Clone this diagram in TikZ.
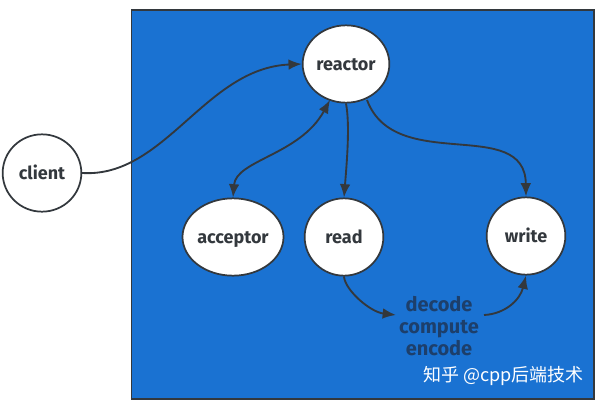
\documentclass[tikz,border=0pt]{standalone}
\usepackage{fontspec}
\setmainfont{Fira Sans}
\newfontfamily\cjkfont{Noto Sans CJK SC}
\usetikzlibrary{arrows.meta,shapes.geometric}
\definecolor{panelblue}{HTML}{1A72D2}
\definecolor{inkdark}{HTML}{33383D}
\definecolor{textblue}{HTML}{1D3F6B}
\tikzset{
  x=0.75pt,y=-0.75pt,
  proc/.style={ellipse,draw=inkdark,line width=1.3pt,fill=white,inner sep=0pt,text=inkdark,text height=9.5pt,text depth=0pt,font=\fontsize{13.5}{15}\selectfont\bfseries},
  conn/.style={draw=inkdark,line width=1.4pt,-{Latex[length=10pt,width=8pt]}},
  both/.style={draw=inkdark,line width=1.4pt,{Latex[length=10pt,width=8pt]}-{Latex[length=10pt,width=8pt]}}
}
\begin{document}
\begin{tikzpicture}
\useasboundingbox (0,0) rectangle (600,404);
\node[draw=inkdark,line width=1.4pt,fill=panelblue,minimum width=347pt,minimum height=291.5pt,inner sep=0pt,anchor=north west] (panel) at (130.5,9) {};
\node[proc,minimum width=59pt,minimum height=58pt] (client) at (42,173) {client};
\node[proc,minimum width=65pt,minimum height=58pt] (reactor) at (346,64) {reactor};
\node[proc,minimum width=74pt,minimum height=58pt] (acceptor) at (233,237) {acceptor};
\node[proc,minimum width=59pt,minimum height=58pt] (read) at (344,237) {read};
\node[proc,minimum width=59pt,minimum height=58pt] (write) at (526,236) {write};
\node[align=center,text=textblue,font=\fontsize{15}{16.5}\selectfont\bfseries,inner sep=0pt] (work) at (439,326) {decode\\compute\\encode};
\node[text=white,font=\fontsize{13.5}{15}\selectfont,anchor=west,inner sep=0pt] (mark) at (423,376) {\cjkfont 知乎 @cpp后端技术};
\coordinate (workin) at (396,315);
\coordinate (workout) at (484,315);
\coordinate (rsw) at (330,100);
\coordinate (rse) at (367,100);
\draw[conn] (client.east) .. controls (165,178) and (205,68) .. (reactor.west);
\draw[both] (acceptor.north) .. controls (236,160) and (300,155) .. (rsw);
\draw[conn] (reactor.south) .. controls (350,125) and (347,160) .. (read.north);
\draw[conn] (rse) .. controls (395,175) and (525,115) .. (write.north);
\draw[conn] (read.south) .. controls (345,290) and (370,312) .. (workin);
\draw[conn] (workout) .. controls (505,314) and (520,300) .. (write.south);
\end{tikzpicture}
\end{document}
